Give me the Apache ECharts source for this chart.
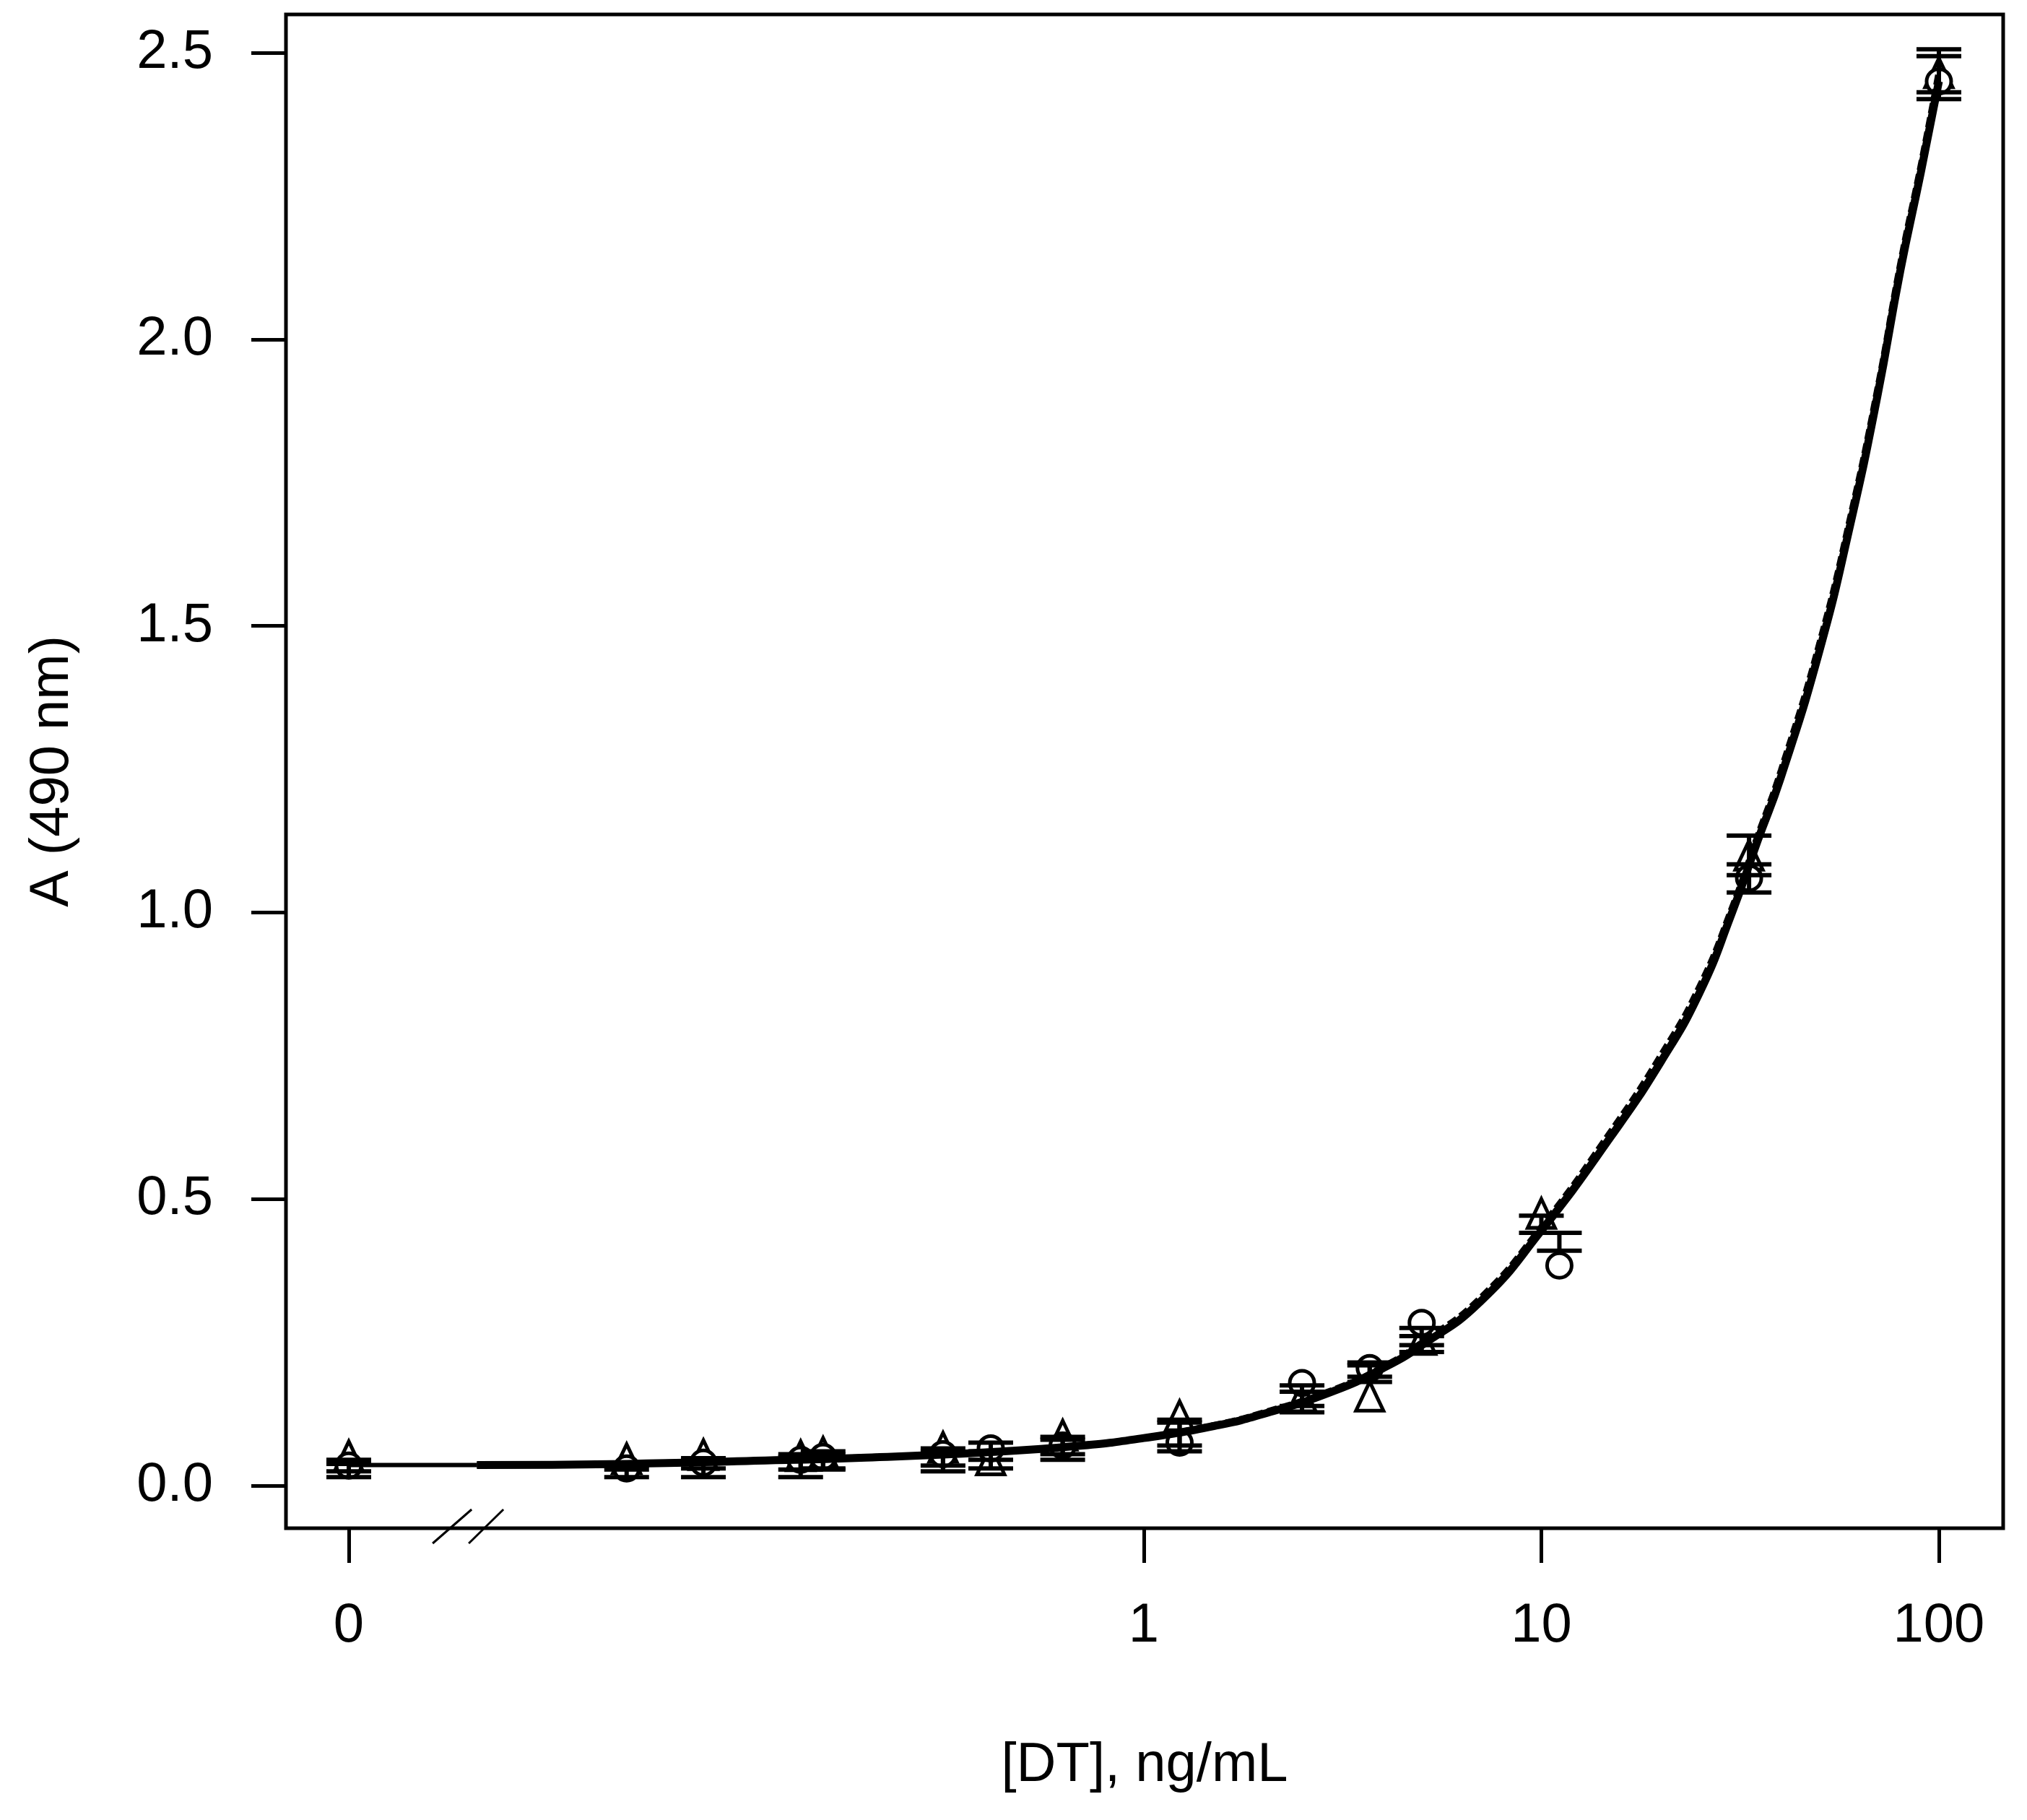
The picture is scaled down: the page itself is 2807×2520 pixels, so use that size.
<!DOCTYPE html>
<html>
<head>
<meta charset="utf-8">
<script src="https://cdn.jsdelivr.net/npm/echarts@6/dist/echarts.min.js"></script>
<style>
  html, body { margin: 0; padding: 0; background: #fff; }
  #chart { width: 2807px; height: 2520px; }
</style>
</head>
<body>
<div id="chart"></div>
<script>
// ---- data ----
const conc = [0, 0.05, 0.078, 0.137, 0.156, 0.3125, 0.412, 0.625, 1.23, 2.5, 3.7, 5, 10, 11.1, 33.3, 100];

const triValue = [0.052, 0.047, 0.054, 0.052, 0.058, 0.067, 0.045, 0.088, 0.122, 0.155, 0.156, 0.255, 0.475, null, 1.10, 2.465];
const triLow   = [0.025, 0.028, 0.030, 0.028, 0.030, 0.035, 0.045, 0.055, 0.070, 0.128, 0.181, 0.233, 0.441, null, 1.065, 2.431];
const triHigh  = [0.045, 0.040, 0.048, 0.055, 0.060, 0.065, 0.075, 0.085, 0.115, 0.175, 0.210, 0.261, 0.471, null, 1.134, 2.506];

const circValue = [0.035, 0.030, 0.040, 0.045, 0.050, 0.055, 0.065, 0.070, 0.075, 0.179, 0.205, 0.284, null, 0.384, 1.06, 2.45];
const circLow   = [0.015, 0.015, 0.015, 0.015, 0.028, 0.025, 0.030, 0.045, 0.060, 0.139, 0.190, 0.245, null, 0.410, 1.035, 2.419];
const circHigh  = [0.038, 0.035, 0.045, 0.050, 0.055, 0.060, 0.060, 0.080, 0.110, 0.164, 0.215, 0.275, null, 0.441, 1.084, 2.494];

const curveConc   = [0.021, 0.05, 0.1, 0.2, 0.4, 0.7, 1, 1.5, 2, 3, 4, 5, 7, 10, 15, 20, 25, 30, 35, 40, 50, 60, 70, 80, 90, 100];
const curveSolid  = [0.036, 0.038, 0.043, 0.049, 0.058, 0.070, 0.083, 0.104, 0.125, 0.165, 0.205, 0.245, 0.320, 0.445, 0.610, 0.740, 0.860, 0.995, 1.125, 1.235, 1.455, 1.680, 1.900, 2.120, 2.290, 2.450];
const curveDashed = [0.036, 0.039, 0.044, 0.050, 0.059, 0.071, 0.084, 0.106, 0.128, 0.168, 0.208, 0.250, 0.327, 0.452, 0.620, 0.752, 0.872, 1.005, 1.135, 1.248, 1.470, 1.695, 1.915, 2.135, 2.305, 2.470];

const zeroLinkConc  = [0, 0.021];
const zeroLinkValue = [0.036, 0.036];

const xTickConc   = [0, 1, 10, 100];
const xTickLabels = ['0', '1', '10', '100'];
const yTicks      = [0, 0.5, 1.0, 1.5, 2.0, 2.5];

// ---- helpers ----
const ZERO_POS = -2;            // where "0" sits on the broken log axis
const BREAK_POS = -1.7;         // axis break position
const toAxis = c => (c === 0 ? ZERO_POS : Math.log10(c));

const pts = (xs, ys) => xs.map((c, i) => (ys[i] == null ? null : [toAxis(c), ys[i]])).filter(Boolean);
const bars = (lo, hi) => conc.map((c, i) => (lo[i] == null ? null : [toAxis(c), lo[i], hi[i]])).filter(Boolean);

const FONT = "'Liberation Sans', Arial, sans-serif";
const FS = 76;

const errorBarSeries = (data) => ({
  type: 'custom',
  data: data,
  encode: { x: 0, y: [1, 2] },
  renderItem: function (params, api) {
    const x = api.value(0);
    const lo = api.coord([x, api.value(1)]);
    const hi = api.coord([x, api.value(2)]);
    const hw = 31;
    const style = { stroke: '#000', lineWidth: 6, fill: null };
    return {
      type: 'group',
      children: [
        { type: 'line', shape: { x1: lo[0], y1: lo[1], x2: hi[0], y2: hi[1] }, style: style },
        { type: 'line', shape: { x1: lo[0] - hw, y1: lo[1], x2: lo[0] + hw, y2: lo[1] }, style: style },
        { type: 'line', shape: { x1: hi[0] - hw, y1: hi[1], x2: hi[0] + hw, y2: hi[1] }, style: style }
      ]
    };
  },
  z: 3
});

const chart = echarts.init(document.getElementById('chart'), null, { renderer: 'canvas' });

const option = {
  animation: false,
  backgroundColor: '#fff',
  grid: {
    left: 396, right: 33, top: 20, bottom: 404,
    show: true, borderColor: '#000', borderWidth: 5, backgroundColor: 'transparent'
  },
  xAxis: {
    type: 'value',
    min: -2.158, max: 2.1617,
    axisLine: { show: false, onZero: false },
    splitLine: { show: false },
    axisTick: {
      show: true, length: 48, inside: false,
      customValues: xTickConc.map(toAxis),
      lineStyle: { color: '#000', width: 5 }
    },
    axisLabel: {
      show: true, margin: 98,
      customValues: xTickConc.map(toAxis),
      formatter: function (v) {
        const i = xTickConc.map(toAxis).findIndex(t => Math.abs(t - v) < 1e-9);
        return i >= 0 ? xTickLabels[i] : '';
      },
      color: '#000', fontSize: FS, fontFamily: FONT
    },
    name: '[DT], ng/mL',
    nameLocation: 'middle',
    nameGap: 291,
    nameTextStyle: { color: '#000', fontSize: FS, fontFamily: FONT }
  },
  yAxis: {
    type: 'value',
    min: -0.0743, max: 2.5668,
    axisLine: { show: false, onZero: false },
    splitLine: { show: false },
    axisTick: {
      show: true, length: 48, inside: false,
      customValues: yTicks,
      lineStyle: { color: '#000', width: 5 }
    },
    axisLabel: {
      show: true, margin: 101,
      customValues: yTicks,
      formatter: v => v.toFixed(1),
      color: '#000', fontSize: FS, fontFamily: FONT
    },
    name: 'A (490 nm)',
    nameLocation: 'middle',
    nameGap: 285,
    nameTextStyle: { color: '#000', fontSize: FS, fontFamily: FONT }
  },
  series: [
    {
      name: 'triangles', type: 'scatter',
      data: pts(conc, triValue),
      symbol: 'triangle', symbolSize: [38, 40],
      itemStyle: { color: '#fff', borderColor: '#000', borderWidth: 5, opacity: 1 },
      z: 2
    },
    {
      name: 'circles', type: 'scatter',
      data: pts(conc, circValue),
      symbol: 'circle', symbolSize: 34,
      itemStyle: { color: '#fff', borderColor: '#000', borderWidth: 5, opacity: 1 },
      z: 2
    },
    errorBarSeries(bars(triLow, triHigh)),
    errorBarSeries(bars(circLow, circHigh)),
    {
      name: 'zero link', type: 'line',
      data: pts(zeroLinkConc, zeroLinkValue),
      showSymbol: false, symbol: 'none',
      lineStyle: { color: '#000', width: 6 },
      z: 4
    },
    {
      name: 'fit solid', type: 'line', smooth: true,
      data: pts(curveConc, curveSolid),
      showSymbol: false, symbol: 'none',
      lineStyle: { color: '#000', width: 11 },
      z: 4
    },
    {
      name: 'fit dashed', type: 'line', smooth: true,
      data: pts(curveConc, curveDashed),
      showSymbol: false, symbol: 'none',
      lineStyle: { color: '#000', width: 8, type: [14, 6] },
      z: 4
    }
  ]
};

chart.setOption(option);

// axis-break marks, placed through the axis scale
const yMin = option.yAxis.min;
const bp = chart.convertToPixel({ gridIndex: 0 }, [BREAK_POS, yMin]);
chart.setOption({
  graphic: [
    { type: 'line', shape: { x1: bp[0] - 49, y1: bp[1] + 21, x2: bp[0] + 5, y2: bp[1] - 26 },
      style: { stroke: '#000', lineWidth: 3 }, z: 10 },
    { type: 'line', shape: { x1: bp[0] + 1, y1: bp[1] + 21, x2: bp[0] + 49, y2: bp[1] - 26 },
      style: { stroke: '#000', lineWidth: 3 }, z: 10 }
  ]
});
</script>
</body>
</html>
